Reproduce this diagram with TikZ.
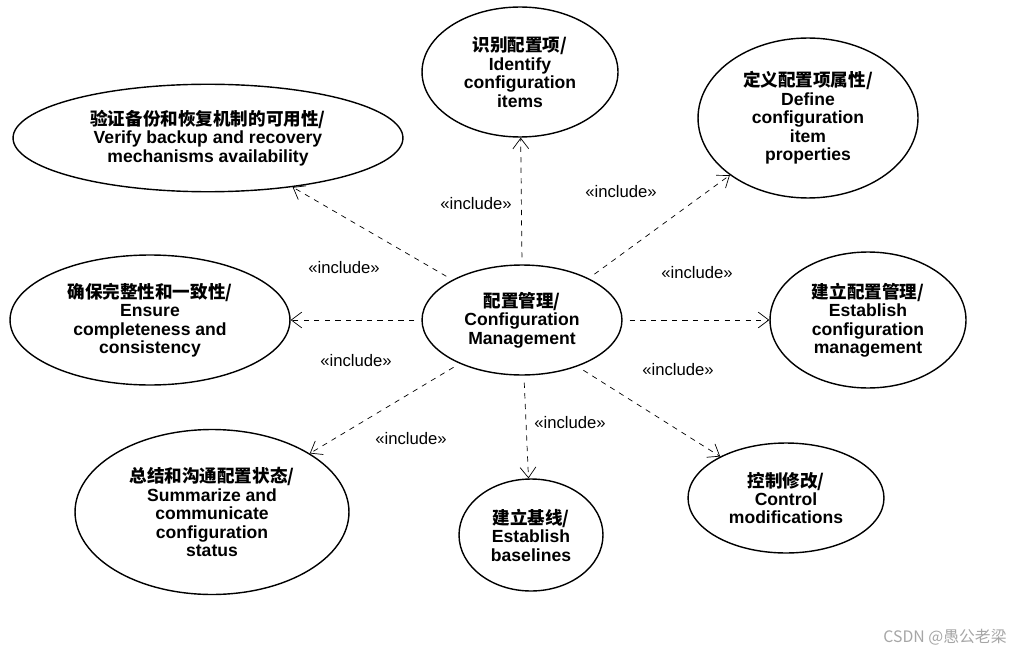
\documentclass[tikz,border=0pt]{standalone}
\usepackage{fontspec}
\setmainfont{Liberation Sans}
\newfontfamily\cjk{Noto Sans CJK SC}
\usetikzlibrary{shapes.geometric,arrows.meta}
\tikzset{
  usecase/.style={ellipse,draw,thick,align=center,inner sep=0pt,
    font=\fontsize{10}{10.5}\selectfont\bfseries},
  incl/.style={dashed,thin,-{Straight Barb[length=6pt,width=9pt]},shorten <=4pt},
  lbl/.style={font=\fontsize{9.5}{10}\selectfont}
}
\newcommand{\zh}[1]{{\cjk\bfseries #1}}
\begin{document}
\begin{tikzpicture}[x=0.02cm,y=-0.02cm]
\useasboundingbox (0,0) rectangle (1026,655);
% central use case
\node[usecase,minimum width=4cm,minimum height=2.2cm] (cm) at (522,320)
  {\zh{配置管理/}\\Configuration\\Management};
% included use cases
\node[usecase,minimum width=3.92cm,minimum height=2.6cm] (ident) at (520,72)
  {\zh{识别配置项/}\\Identify\\configuration\\items};
\node[usecase,minimum width=4.4cm,minimum height=3.2cm] (define) at (808,118)
  {\zh{定义配置项属性/}\\Define\\configuration\\item\\properties};
\node[usecase,minimum width=7.8cm,minimum height=2.15cm] (verify) at (208,138)
  {\zh{验证备份和恢复机制的可用性/}\\Verify backup and recovery\\mechanisms availability};
\node[usecase,minimum width=5.6cm,minimum height=2.6cm] (ensure) at (150,320)
  {\zh{确保完整性和一致性/}\\Ensure\\completeness and\\consistency};
\node[usecase,minimum width=3.92cm,minimum height=2.72cm] (estab) at (868,320)
  {\zh{建立配置管理/}\\Establish\\configuration\\management};
\node[usecase,minimum width=5.48cm,minimum height=3.3cm] (summ) at (212,512)
  {\zh{总结和沟通配置状态/}\\Summarize and\\communicate\\configuration\\status};
\node[usecase,minimum width=2.88cm,minimum height=2.24cm] (base) at (531,535)
  {\zh{建立基线/}\\Establish\\baselines};
\node[usecase,minimum width=3.92cm,minimum height=2.2cm] (ctrl) at (786,498)
  {\zh{控制修改/}\\Control\\modifications};
% include relations
\foreach \to/\ang in {ident/90,define/32,verify/150,ensure/180,estab/0,summ/-145,base/-88,ctrl/-40}
  \draw[incl] (cm.\ang) -- (\to);
\node[lbl] (l1) at (476,204) {«include»};
\node[lbl] (l2) at (621,192) {«include»};
\node[lbl] (l3) at (344,268) {«include»};
\node[lbl] (l4) at (697,273) {«include»};
\node[lbl] (l5) at (356,361) {«include»};
\node[lbl] (l6) at (678,370) {«include»};
\node[lbl] (l7) at (411,439) {«include»};
\node[lbl] (l8) at (570,423) {«include»};
\node[text=gray!70,font=\cjk\fontsize{9}{10}\selectfont] (wm) at (945,637) {CSDN @愚公老梁};
\end{tikzpicture}
\end{document}
